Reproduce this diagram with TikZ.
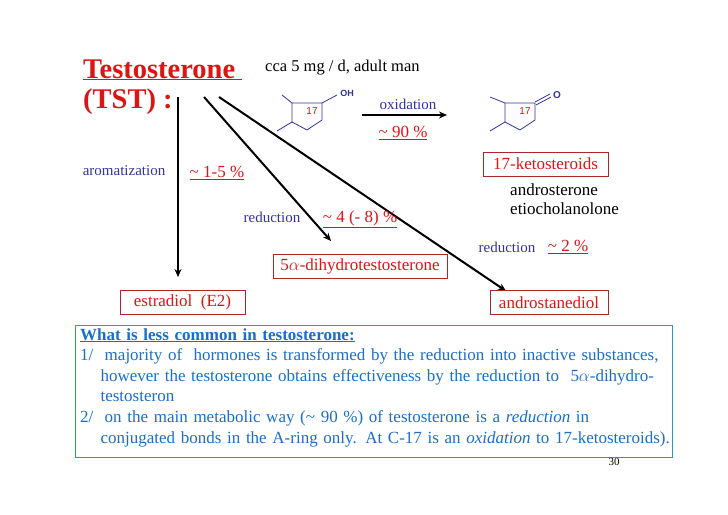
\documentclass[tikz,border=0pt]{standalone}
\usepackage{fontspec}
\setmainfont{Liberation Serif}
\newfontfamily\hel{Liberation Sans}
\usetikzlibrary{arrows.meta}
\definecolor{tred}{RGB}{220,20,20}
\definecolor{tblue}{RGB}{50,50,160}
\definecolor{bred}{RGB}{170,40,40}
\definecolor{cyanb}{RGB}{40,150,210}
\definecolor{bodyb}{RGB}{25,110,200}
\begin{document}
\begin{tikzpicture}[x=1pt,y=-1pt,
  lbl/.style={text=tblue,font=\fontsize{15}{17}\selectfont,inner sep=0},
  pct/.style={text=tred,font=\fontsize{17}{19}\selectfont,inner sep=1pt},
  prod/.style={draw=bred,text=tred,font=\fontsize{17}{19}\selectfont,inner sep=0,minimum height=24pt},
  arr/.style={line width=2pt,-{Stealth[length=8pt,width=7pt]}},
  ring/.style={draw=tblue,line width=0.8pt}]
\useasboundingbox (0,0) rectangle (728,514);
\node[anchor=base west,text=tred,font=\fontsize{28.5}{30}\selectfont\bfseries,inner sep=0] (t1) at (83,78) {\underline{Testosterone\ }};
\node[anchor=base west,text=tred,font=\fontsize{28.5}{30}\selectfont\bfseries,inner sep=0] (t2) at (83,108) {(TST) :};
\node[anchor=base west,font=\fontsize{16.5}{18}\selectfont,inner sep=0] (dose) at (265,71) {cca 5 mg / d, adult man};
% ring 1
\draw[ring] (282,95)--(292,103)--(322,103)--(322,120)--(307,130)--(292,122)--(292,103);
\draw[ring] (292,122)--(277,131);
\draw[ring] (322,103)--(337,95);
\node[text=tred,font=\hel\fontsize{10}{11}\selectfont,inner sep=0] (n17a) at (312,111) {17};
\node[text=tblue,font=\hel\bfseries\fontsize{9}{10}\selectfont,inner sep=0] (oh) at (347,93) {OH};
% ring 2
\draw[ring] (490,97)--(505,103)--(535,103)--(535,120)--(520,130)--(505,122)--(505,103);
\draw[ring] (505,122)--(490,131);
\draw[ring] (535,102)--(550,94);
\draw[ring] (536,105)--(551,97);
\node[text=tred,font=\hel\fontsize{10}{11}\selectfont,inner sep=0] (n17b) at (525,111) {17};
\node[text=tblue,font=\hel\bfseries\fontsize{10}{11}\selectfont,inner sep=0] (ox) at (557,95) {O};
% oxidation
\coordinate (oa) at (362,115); \coordinate (ob) at (447,115);
\draw[arr] (oa)--(ob);
\node[lbl] (oxl) at (408,104) {oxidation};
\node[pct] (p90) at (403,133) {\underline{\textasciitilde{} 90 \%}};
% arrows
\coordinate (s1) at (178,97); \coordinate (e1) at (178,277);
\coordinate (s2) at (204,97); \coordinate (e2) at (331,241);
\coordinate (s3) at (219,97); \coordinate (e3) at (506,291);
\draw[arr] (s1)--(e1);
\draw[arr] (s2)--(e2);
\draw[arr] (s3)--(e3);
\node[lbl] (arom) at (124,171) {aromatization};
\node[pct] (p15) at (217,173) {\underline{\textasciitilde{} 1-5 \%}};
\node[lbl] (red1) at (272,217) {reduction};
\node[pct] (p48) at (360,219) {\underline{\textasciitilde{} 4 (- 8) \%}};
\node[lbl] (red2) at (507,247) {reduction};
\node[pct] (p2) at (568,247) {\underline{\textasciitilde{} 2 \%}};
% products
\node[prod,minimum width=125pt] (keto) at (545.5,164) {17-ketosteroids};
\node[anchor=west,font=\fontsize{17}{19}\selectfont,inner sep=0] (andr) at (510,190) {androsterone};
\node[anchor=west,font=\fontsize{17}{19}\selectfont,inner sep=0] (etio) at (510,209) {etiocholanolone};
\node[prod,minimum width=174pt] (dht) at (360,266) {5$\alpha$-dihydrotestosterone};
\node[prod,minimum width=125pt] (e2) at (182.5,302.5) {estradiol \ (E2)};
\node[prod,minimum width=118pt] (andi) at (549,302.5) {androstanediol};
% box
\draw[draw=cyanb,line width=0.8pt] (75,325) rectangle (672,457);
\node[anchor=north west,inner sep=0,text width=600pt,align=left,text=bodyb,font=\fontsize{17}{20.6}\selectfont] (txt) at (80,328) {%
\textbf{\underline{What is less common in testosterone:}}\\
1/ \ majority of \ hormones is transformed by the reduction into inactive substances,\\
\hspace*{1.2em}however the testosterone obtains effectiveness by the reduction to \ 5$\alpha$-dihydro-\\
\hspace*{1.2em}testosteron\\
2/ \ on the main metabolic way (\textasciitilde{} 90 \%) of testosterone is a \textit{reduction} in\\
\hspace*{1.2em}conjugated bonds in the A-ring only. At C-17 is an \textit{oxidation} to 17-ketosteroids).};
\node[font=\fontsize{11}{12}\selectfont,inner sep=0] (pg) at (614,462) {30};
\end{tikzpicture}
\end{document}
